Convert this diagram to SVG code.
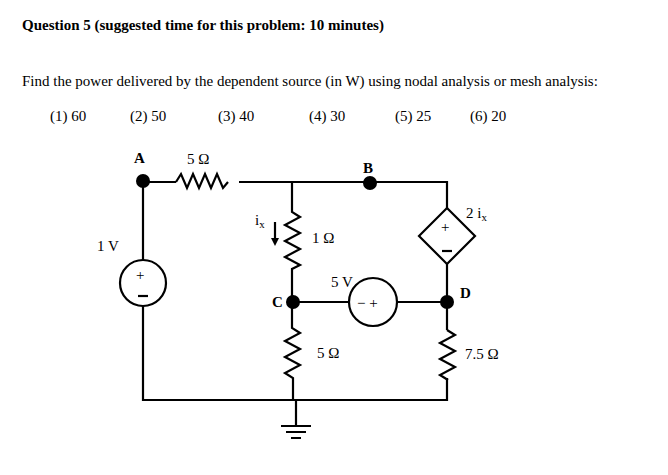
<svg xmlns="http://www.w3.org/2000/svg" width="668" height="475" viewBox="0 0 668 475">
<style>
.w{stroke:#000;stroke-width:2.2;fill:none;stroke-linejoin:miter}
.t{font-family:"Liberation Serif",serif;font-size:15px;fill:#000}
.b{font-weight:bold}
.d{fill:#000}
</style>
<rect width="668" height="475" fill="#fff"/>
<text class="t b" x="22" y="30">Question 5 (suggested time for this problem: 10 minutes)</text>
<text class="t" x="22" y="86">Find the power delivered by the dependent source (in W) using nodal analysis or mesh analysis:</text>
<g class="t"><text x="50" y="121">(1) 60</text><text x="130" y="121">(2) 50</text><text x="218" y="121">(3) 40</text><text x="309" y="121">(4) 30</text><text x="395" y="121">(5) 25</text><text x="470" y="121">(6) 20</text></g>
<g id="connectors">
<path class="w" d="M143,182 H176 M239,182 H447 V208 M447,264 V330 M447,378 V400 H143 V306 M143,260 V182"/>
<path class="w" d="M176,182 l5,-8 l6,14 l6,-14 l6,14 l6,-14 l6,14 l6,-14 l6,14 l5,-6"/>
<path class="w" d="M292,182 V212 l8,5 l-15,8 l15,8 l-15,8 l15,8 l-15,8 l15,8 l-8,4 V328 l8,5 l-15,8 l15,8 l-15,8 l15,8 l-15,8 l8,5 V400"/>
<path class="w" d="M447,330 l8,5 l-15,8 l15,8 l-15,8 l15,8 l-15,8 l8,5"/>
<path class="w" d="M292,302 H349 M397,302 H447"/>
<path class="w" d="M296,400 V426 M281,426 H311 M286,432 H306 M291,438 H301"/>
<path d="M275,222 V240" class="w" stroke-width="1.5"/><path d="M271,238 L275,246 L279,238 Z" class="d"/>
</g>
<g id="n1v"><circle class="w" cx="143" cy="283" r="23"/><text class="t" x="136" y="280">+</text><path class="w" stroke-width="1.5" d="M138,296 H148"/><text class="t" x="97" y="251">1 V</text></g>
<g id="n5v"><circle class="w" cx="373" cy="302" r="24"/><text class="t" x="357" y="308">− +</text><text class="t" x="331" y="287">5 V</text></g>
<g id="ndep"><path class="w" d="M447,208 L475,236 L447,264 L419,236 Z"/><text class="t" x="441" y="232">+</text><path class="w" stroke-width="1.5" d="M442,251 H452"/><text class="t" x="466" y="218">2 i<tspan font-size="11" dy="3">x</tspan></text></g>
<g id="nA"><circle class="d" cx="143" cy="181" r="7"/><text class="t b" x="134" y="163">A</text></g>
<g id="nB"><circle class="d" cx="370" cy="183" r="7"/><text class="t b" x="363" y="173">B</text></g>
<g id="nC"><circle class="d" cx="293" cy="302" r="7"/><text class="t b" x="272" y="307">C</text></g>
<g id="nD"><circle class="d" cx="447" cy="302" r="7"/><text class="t b" x="460" y="298">D</text></g>
<g id="labels"><text class="t" x="187" y="164">5 Ω</text><text class="t" x="312" y="243">1 Ω</text><text class="t" x="317" y="358">5 Ω</text><text class="t" x="465" y="359">7.5 Ω</text><text class="t" x="255" y="225">i<tspan font-size="11" dy="3">x</tspan></text></g>
</svg>
